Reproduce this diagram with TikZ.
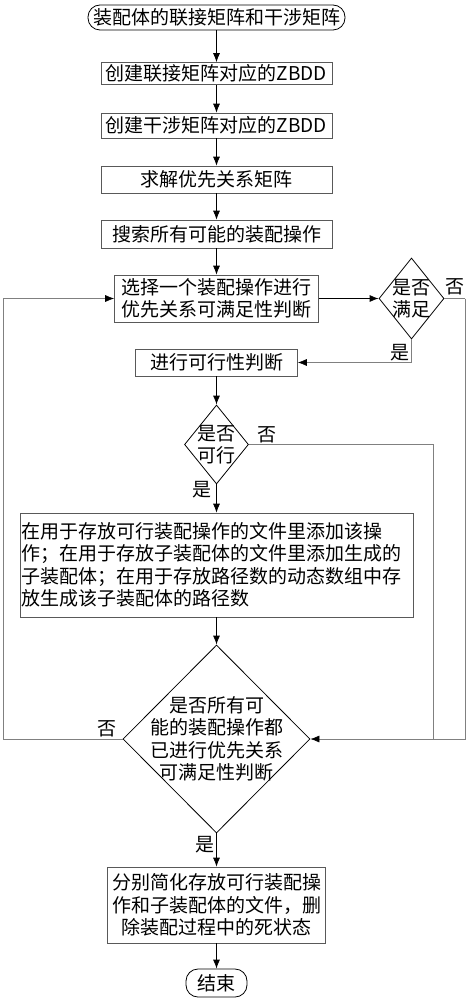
\documentclass[tikz,border=0pt]{standalone}
\usepackage{fontspec}
\setmainfont{Noto Sans CJK SC}
\usetikzlibrary{shapes.geometric,arrows.meta}
\tikzset{
  box/.style={draw=gray!70!black, line width=0.6pt, inner sep=0pt, align=center},
  term/.style={draw, rounded corners=12pt, inner sep=0pt, line width=0.8pt},
  decision/.style={draw, diamond, inner sep=0pt, line width=0.8pt},
  arr/.style={-{Latex[length=9pt,width=7pt,color=black]}, line width=0.8pt},
  back/.style={draw=gray, line width=0.6pt}
}
\begin{document}
\begin{tikzpicture}[x=1pt,y=-1pt,font=\fontsize{19}{22.5}\selectfont]
\useasboundingbox (0,0) rectangle (469,1000);
% main column
\node[term, minimum width=257pt, minimum height=25pt] (start) at (216.5,17.5) {装配体的联接矩阵和干涉矩阵};
\node[box, minimum width=231pt, minimum height=22pt] (b1) at (216.5,73.5) {创建联接矩阵对应的ZBDD};
\node[box, minimum width=231pt, minimum height=25pt] (b2) at (216.5,125.5) {创建干涉矩阵对应的ZBDD};
\node[box, minimum width=231pt, minimum height=27pt] (b3) at (216.5,179.5) {求解优先关系矩阵};
\node[box, minimum width=231pt, minimum height=28pt] (b4) at (216.5,234) {搜索所有可能的装配操作};
\node[box, minimum width=204pt, minimum height=47pt] (b5) at (216.5,298.5) {选择一个装配操作进行\\优先关系可满足性判断};
\node[box, minimum width=162pt, minimum height=27pt] (b6) at (216.5,362.5) {进行可行性判断};
\node[box, text width=391pt, inner xsep=1pt, minimum height=104pt, align=left] (b7) at (216.5,565) {在用于存放可行装配操作的文件里添加该操\\作；在用于存放子装配体的文件里添加生成的\\子装配体；在用于存放路径数的动态数组中存\\放生成该子装配体的路径数};
\node[box, minimum width=218pt, minimum height=76pt] (b8) at (216.5,905) {分别简化存放可行装配操\\作和子装配体的文件，删\\除装配过程中的死状态};
\node[term, minimum width=61pt, minimum height=28pt] (end) at (216.5,983) {结束};

% decisions
\node[decision, minimum width=65pt, minimum height=81pt] (d1) at (411.5,298.5) {};
\node[align=center, inner sep=0pt] (d1t) at (d1) {是否\\满足};
\node[decision, minimum width=64pt, minimum height=79pt] (d2) at (216.5,444.5) {};
\node[align=center, inner sep=0pt] (d2t) at (d2) {是否\\可行};
\node[decision, minimum width=187pt, minimum height=188pt] (d3) at (216.5,739) {};
\node[align=center, inner sep=0pt] (d3t) at (d3) {是否所有可\\能的装配操作都\\已进行优先关系\\可满足性判断};

% labels
\node (n1) at (455,287) {否};
\node (y1) at (400,353) {是};
\node (n2) at (267,435) {否};
\node (y2) at (202,490) {是};
\node (n3) at (107,729) {否};
\node (y3) at (205,845) {是};

% connectors
\draw[arr] (start) -- (b1);
\draw[arr] (b1) -- (b2);
\draw[arr] (b2) -- (b3);
\draw[arr] (b3) -- (b4);
\draw[arr] (b4) -- (b5);
\draw[arr] (b5) -- (d1);
\draw[arr,back] (d1.south) |- (b6.east);
\draw[arr] (b6) -- (d2);
\draw[arr] (d2) -- (b7);
\draw[arr] (b7) -- (d3);
\draw[arr] (d3) -- (b8);
\draw[arr] (b8) -- (end);

\coordinate (rt) at (465,298.5);
\draw[back] (d1.east) -- (rt);
\draw[arr,back] (rt) |- (d3.east);
\coordinate (jn) at (433,739);
\draw[back] (d2.east) -| (jn);
\coordinate (lt) at (3,739);
\draw[back] (d3.west) -- (lt);
\draw[arr,back] (lt) |- (b5.west);
\end{tikzpicture}
\end{document}
